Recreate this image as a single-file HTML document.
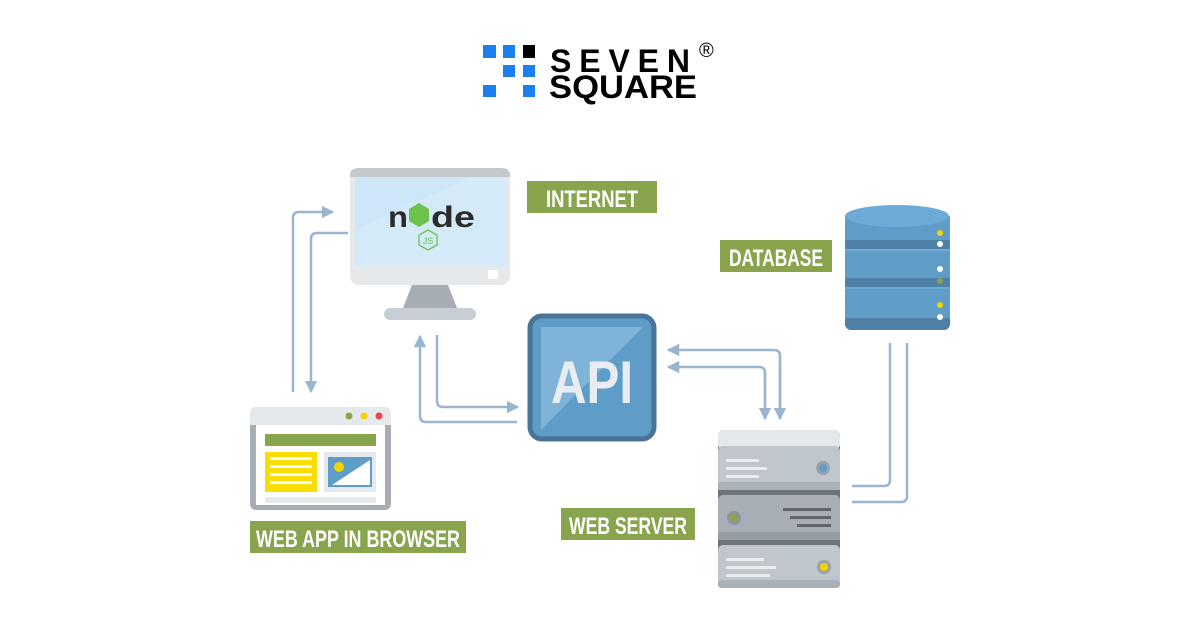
<!DOCTYPE html>
<html><head><meta charset="utf-8"><style>
html,body{margin:0;padding:0;background:#fff;}
svg{display:block;}
.lbl{font-family:"Liberation Sans",sans-serif;font-weight:bold;fill:#fff;}
</style></head><body>
<svg width="1201" height="630" viewBox="0 0 1201 630" xmlns="http://www.w3.org/2000/svg">
<defs>
<marker id="ah" viewBox="0 0 10 10" refX="9" refY="5" markerWidth="5" markerHeight="5" orient="auto" markerUnits="strokeWidth">
<path d="M0,0 L10,5 L0,10 z" fill="#9bb4cf"/></marker>
</defs>
<!-- logo -->
<g fill="#1a7ff0">
<rect x="483" y="45" width="13" height="13"/><rect x="503" y="45" width="12" height="13"/>
<rect x="503" y="65" width="12" height="12"/><rect x="523" y="65" width="12" height="12"/>
<rect x="483" y="85" width="13" height="12"/><rect x="523" y="85" width="12" height="12"/>
</g>
<rect x="523" y="45" width="12" height="13" fill="#000"/>
<text x="550" y="72" font-family="Liberation Sans,sans-serif" font-weight="bold" font-size="32" textLength="140" lengthAdjust="spacing">SEVEN</text>
<text x="549" y="98" font-family="Liberation Sans,sans-serif" font-weight="bold" font-size="32" textLength="148" lengthAdjust="spacingAndGlyphs">SQUARE</text>
<text x="699" y="57" font-family="Liberation Sans,sans-serif" font-size="20">®</text>

<!-- connectors -->
<g fill="none" stroke="#9bb4cf" stroke-width="2.5">
<path d="M293,392 V218 Q293,212 299,212 H333" marker-end="url(#ah)"/>
<path d="M348,233 H317 Q311,233 311,239 V392" marker-end="url(#ah)"/>
<path d="M437,335 V401 Q437,407 443,407 H518" marker-end="url(#ah)"/>
<path d="M517,422 H426 Q420,422 420,416 V336" marker-end="url(#ah)"/>
<path d="M780,419 V356 Q780,350 774,350 H668" marker-end="url(#ah)"/>
<path d="M765,419 V373 Q765,367 759,367 H668" marker-end="url(#ah)"/>
<path d="M765,372 V419" marker-end="url(#ah)"/>
<path d="M780,356 V419" marker-end="url(#ah)"/>
<path d="M890,343 V480 Q890,486 884,486 H852"/>
<path d="M907,343 V496 Q907,502 901,502 H852"/>
</g>

<!-- monitor -->
<rect x="350" y="168" width="160" height="117" rx="9" fill="#e6e9ec"/>
<path d="M350,177 V175 Q350,168 359,168 H501 Q510,168 510,175 V177 Z" fill="#c3c8cd"/>
<rect x="355" y="177" width="150" height="89" rx="4" fill="#cde6f8"/>
<polygon points="355,266 355,230 470,177 505,177 505,266" fill="#d4eaf9"/>
<rect x="488" y="270" width="10" height="9" fill="#fff"/>
<polygon points="412,285 448,285 457,308 403,308" fill="#a6adb4"/>
<rect x="384" y="308" width="92" height="12" rx="6" fill="#c7ced5"/>
<text x="388" y="227" font-family="Liberation Sans,sans-serif" font-weight="bold" font-size="30" fill="#2b2b2b" textLength="20" lengthAdjust="spacingAndGlyphs">n</text>
<text x="431" y="227" font-family="Liberation Sans,sans-serif" font-weight="bold" font-size="30" fill="#2b2b2b" textLength="44" lengthAdjust="spacingAndGlyphs">de</text>
<polygon points="419,203 429,209 429,221 419,227 409,221 409,209" fill="#6cc24a"/>
<polygon points="428,230 437,235 437,245 428,250 419,245 419,235" fill="none" stroke="#6cc24a" stroke-width="1.3"/>
<text x="428" y="244" text-anchor="middle" font-family="Liberation Sans,sans-serif" font-size="9" fill="#6cc24a">JS</text>

<!-- INTERNET -->
<rect x="527" y="181" width="130" height="32" fill="#88a44c"/>
<text class="lbl" x="592" y="207" text-anchor="middle" font-size="24" textLength="92" lengthAdjust="spacingAndGlyphs">INTERNET</text>

<!-- API -->
<rect x="530" y="316" width="124" height="123" rx="12" fill="#5e9dc8" stroke="#4a7497" stroke-width="5"/>
<polygon points="541,327 643,327 541,430" fill="#7fb3d8"/>
<text x="592" y="403" text-anchor="middle" font-family="Liberation Sans,sans-serif" font-weight="bold" font-size="60" fill="#e8edf1" textLength="82" lengthAdjust="spacingAndGlyphs">API</text>

<!-- database -->
<rect x="845" y="288" width="105" height="42" rx="6" fill="#4e80a8"/>
<rect x="845" y="288" width="105" height="30" fill="#5f9cc8"/>
<rect x="845" y="250" width="105" height="38" fill="#4e80a8"/>
<rect x="845" y="250" width="105" height="28" fill="#5f9cc8"/>
<rect x="845" y="216" width="105" height="34" fill="#4e80a8"/>
<rect x="845" y="216" width="105" height="24" fill="#5f9cc8"/>
<line x1="845" y1="250" x2="950" y2="250" stroke="#6eaad4" stroke-width="2"/>
<line x1="845" y1="288" x2="950" y2="288" stroke="#6eaad4" stroke-width="2"/>
<ellipse cx="897" cy="216" rx="52" ry="11" fill="#6eaad6"/>
<circle cx="940" cy="233" r="3" fill="#f4d400"/><circle cx="940" cy="244" r="3" fill="#fff"/>
<circle cx="940" cy="269" r="3" fill="#fff"/><circle cx="940" cy="281" r="3" fill="#88a44c"/>
<circle cx="940" cy="305" r="3" fill="#f4d400"/><circle cx="940" cy="317" r="3" fill="#fff"/>

<!-- DATABASE label -->
<rect x="720" y="240" width="112" height="32" fill="#88a44c"/>
<text class="lbl" x="776" y="266" text-anchor="middle" font-size="24" textLength="94" lengthAdjust="spacingAndGlyphs">DATABASE</text>

<!-- server -->
<rect x="718" y="430" width="122" height="158" rx="6" fill="#6c737b"/>
<rect x="718" y="430" width="122" height="20" rx="6" fill="#e5e8eb"/>
<rect x="718" y="446" width="122" height="44" rx="5" fill="#bfc6ce"/>
<rect x="718" y="482" width="122" height="8" fill="#a9b0b8"/>
<rect x="718" y="495" width="122" height="45" rx="5" fill="#a7aeb6"/>
<rect x="718" y="532" width="122" height="8" fill="#959ca4"/>
<rect x="718" y="545" width="122" height="43" rx="5" fill="#bfc6ce"/>
<rect x="718" y="580" width="122" height="8" rx="3" fill="#a9b0b8"/>
<g fill="#e9ecef"><rect x="726" y="459" width="33" height="3"/><rect x="726" y="467" width="41" height="3"/><rect x="726" y="475" width="33" height="3"/>
<rect x="726" y="558" width="38" height="3"/><rect x="726" y="566" width="50" height="3"/><rect x="726" y="574" width="44" height="3"/></g>
<g fill="#60666c"><rect x="783" y="508" width="48" height="3"/><rect x="790" y="516" width="41" height="3"/><rect x="797" y="524" width="34" height="3"/></g>
<circle cx="823" cy="468" r="7" fill="#9aa1a8"/><circle cx="823" cy="468" r="4" fill="#5e9dc8"/>
<circle cx="734" cy="518" r="7" fill="#8e959c"/><circle cx="734" cy="518" r="4" fill="#88a44c"/>
<circle cx="824" cy="567" r="7" fill="#9aa1a8"/><circle cx="824" cy="567" r="4" fill="#f4d400"/>

<!-- WEB SERVER -->
<rect x="561" y="508" width="134" height="32" fill="#88a44c"/>
<text class="lbl" x="628" y="534" text-anchor="middle" font-size="24" textLength="118" lengthAdjust="spacingAndGlyphs">WEB SERVER</text>

<!-- browser -->
<rect x="250" y="407" width="141" height="103" rx="6" fill="#a6adb4"/>
<rect x="250" y="407" width="141" height="18" rx="6" fill="#e6e9ec"/>
<rect x="250" y="420" width="141" height="5" fill="#e6e9ec"/>
<rect x="256" y="425" width="129" height="80" fill="#fff"/>
<circle cx="349" cy="416" r="3.5" fill="#88a44c"/><circle cx="364" cy="416" r="3.5" fill="#f4d400"/><circle cx="379" cy="416" r="3.5" fill="#f04545"/>
<rect x="265" y="434" width="111" height="12" fill="#88a44c"/>
<rect x="265" y="452" width="52" height="40" fill="#f9dc00"/>
<g fill="#fff"><rect x="270" y="457" width="42" height="3"/><rect x="270" y="465" width="42" height="3"/><rect x="270" y="473" width="42" height="3"/><rect x="270" y="481" width="42" height="3"/></g>
<rect x="324" y="452" width="52" height="40" fill="#e6e9ec"/>
<rect x="328" y="457" width="44" height="30" fill="#5e9dc8"/>
<polygon points="332,485 370,460 370,485" fill="#fff"/>
<circle cx="339" cy="467" r="5" fill="#f4d400"/>
<rect x="265" y="497" width="111" height="6" fill="#e6e9ec"/>

<!-- WEB APP label -->
<rect x="250" y="521" width="216" height="32" fill="#88a44c"/>
<text class="lbl" x="358" y="547" text-anchor="middle" font-size="24" textLength="204" lengthAdjust="spacingAndGlyphs">WEB APP IN BROWSER</text>
</svg>
</body></html>
